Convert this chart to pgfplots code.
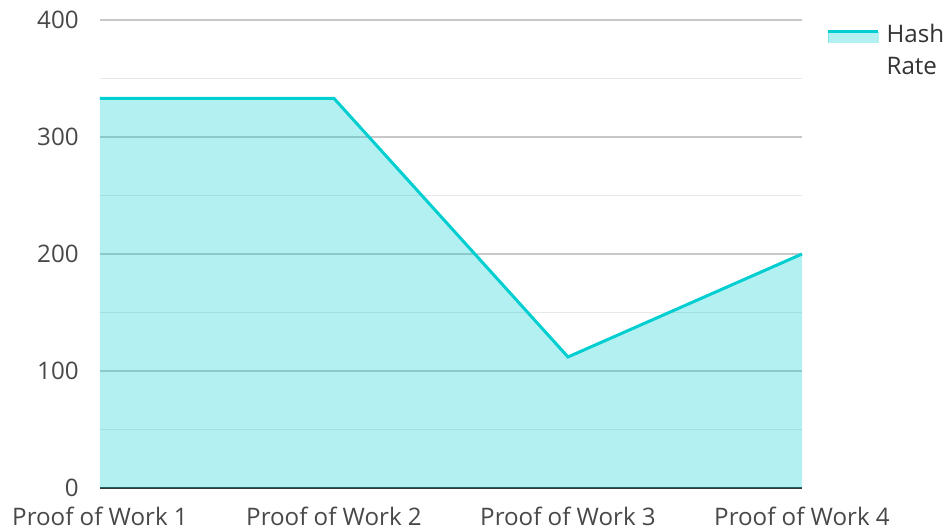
\documentclass[border=0pt]{standalone}
\usepackage{pgfplots}
\pgfplotsset{compat=1.18}
\usepackage{fontspec}
\setmainfont{Open Sans}
\definecolor{lineC}{RGB}{0,206,209}
\definecolor{gridmajor}{RGB}{200,200,200}
\definecolor{gridminor}{RGB}{232,232,232}
\definecolor{axisdark}{RGB}{51,51,51}
\definecolor{ticktext}{RGB}{72,72,72}
\begin{document}
\begin{tikzpicture}
\useasboundingbox (-75pt,-30.75pt) rectangle (634.5pt,366pt);
\begin{axis}[
  at={(0,0)}, anchor=south west,
  scale only axis,
  width=526.5pt, height=351pt,
  xmin=0, xmax=3, ymin=0, ymax=400,
  xtick={0,1,2,3},
  xticklabels={Proof of Work 1,Proof of Work 2,Proof of Work 3,Proof of Work 4},
  ytick={0,100,200,300,400},
  minor ytick={50,150,250,350},
  ymajorgrids, yminorgrids,
  major grid style={draw=gridmajor, line width=1pt},
  minor grid style={draw=gridminor, line width=1pt},
  major tick length=0pt, minor tick length=0pt,
  axis x line*=bottom, axis y line*=left,
  x axis line style={-, draw=axisdark, line width=1.5pt},
  y axis line style={draw=none},
  tick label style={font=\fontsize{18.1}{22}\selectfont, text=ticktext},
  /pgf/number format/assume math mode=true,
  yticklabel style={xshift=-12.5pt},
  xticklabel style={yshift=-10.5pt},
  clip=false,
  legend style={at={(1,1)}, anchor=north west, xshift=18.5pt, yshift=-1pt,
    draw=none, fill=none, inner sep=0pt, column sep=3.5pt,
    nodes={align=left, font=\fontsize{18.1}{24}\selectfont, text=axisdark}},
  legend cell align=left,
]
\addplot[draw=none, fill=lineC, fill opacity=0.3, forget plot]
  coordinates {(0,333) (1,333) (2,112) (3,200)} \closedcycle;
\addplot[draw=lineC, line width=2.25pt, forget plot]
  coordinates {(0,333) (1,333) (2,112) (3,200)};
\addlegendimage{legend image code/.code={
  \fill[lineC, opacity=0.3] (0pt,6pt) rectangle (37pt,14pt);
  \draw[lineC, line width=2.25pt] (0pt,14.5pt) -- (37pt,14.5pt);
}}
\addlegendentry{Hash\\Rate}
\end{axis}
\end{tikzpicture}
\end{document}
